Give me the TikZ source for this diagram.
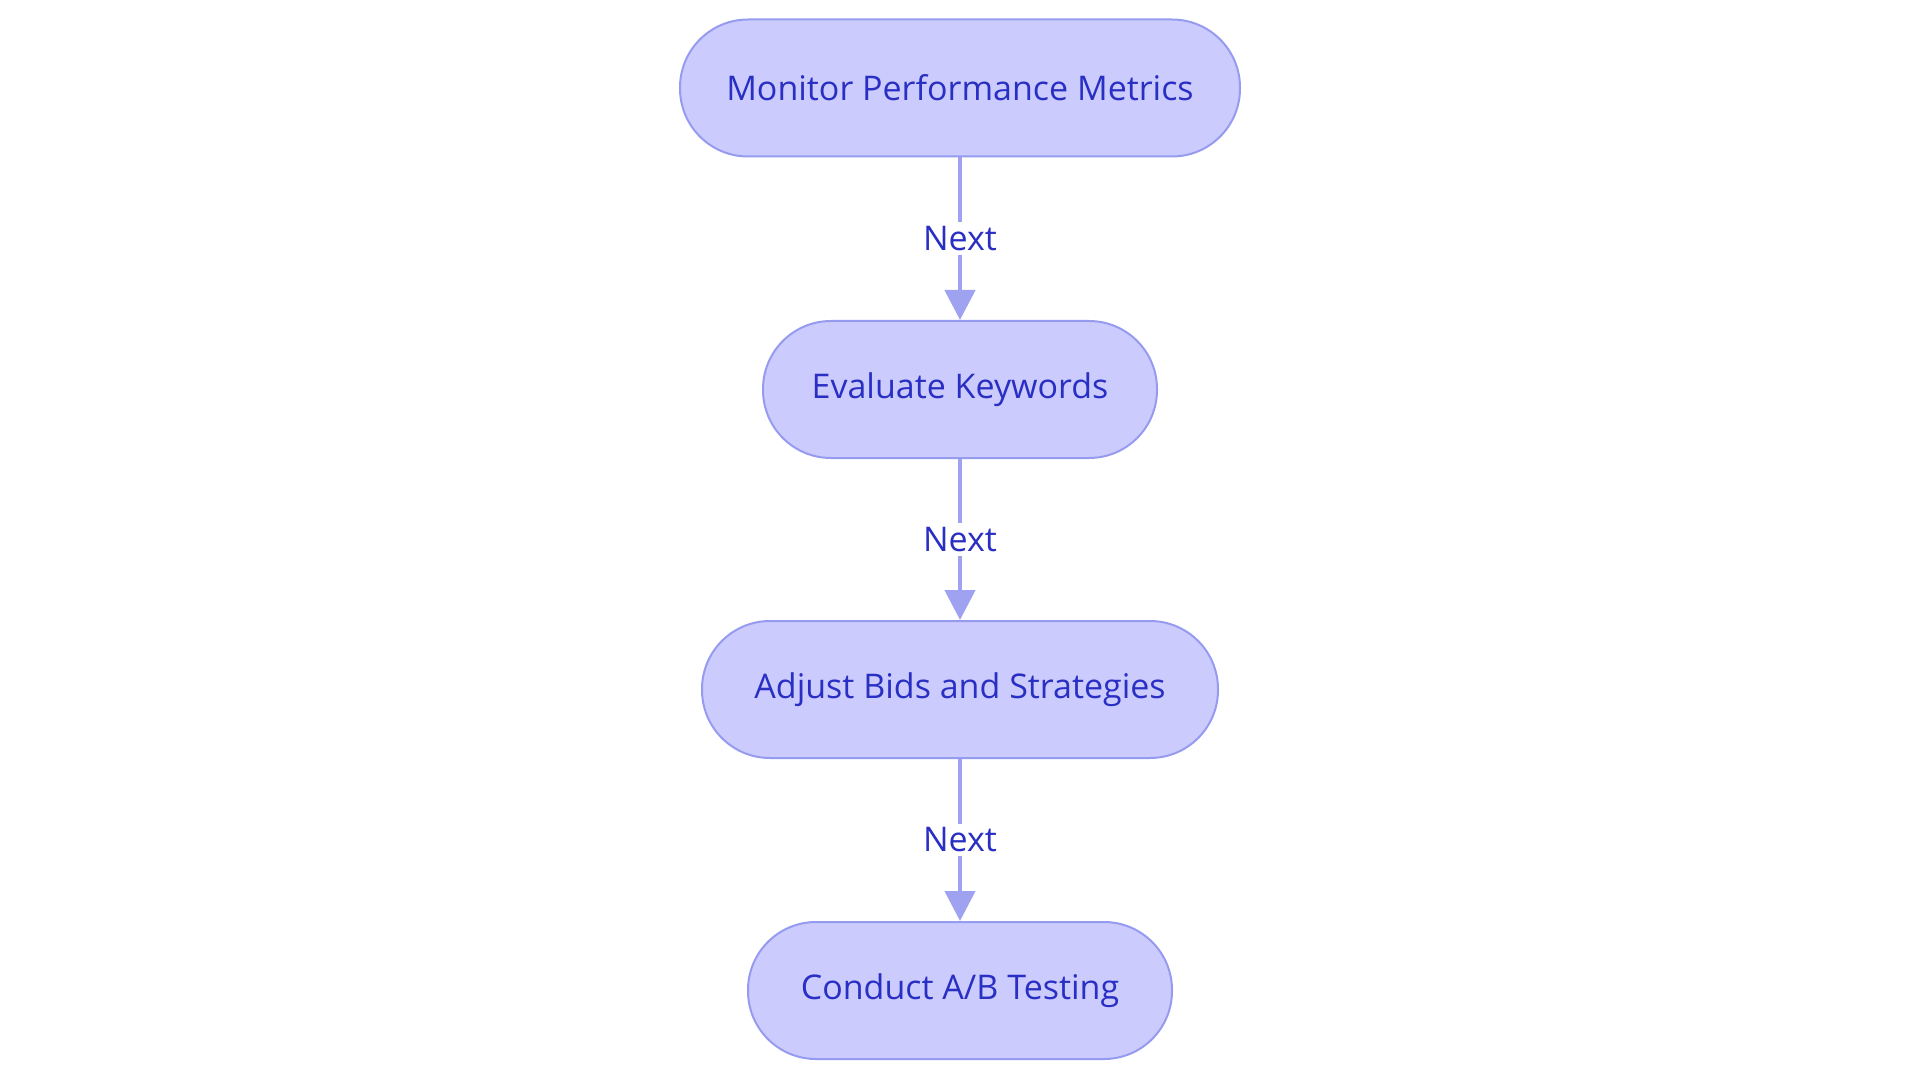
\documentclass[tikz,border=0pt]{standalone}
\usepackage{fontspec}
\setmainfont{Open Sans}
\usetikzlibrary{arrows.meta}
\definecolor{nodefill}{RGB}{203,204,253}
\definecolor{nodedraw}{RGB}{150,155,240}
\definecolor{nodetext}{RGB}{42,47,196}
\definecolor{edgecol}{RGB}{158,162,240}
\tikzset{
  stepbox/.style={draw=nodedraw, line width=2pt, fill=nodefill, text=nodetext,
    rounded corners=68pt, minimum height=137pt, inner sep=0pt,
    font=\fontsize{34pt}{39pt}\selectfont},
  flow/.style={draw=edgecol, line width=4.5pt, -{Triangle[length=30pt,width=30pt]}},
  lab/.style={fill=white, text=nodetext, inner sep=4pt, font=\fontsize{34pt}{39pt}\selectfont}
}
\begin{document}
\begin{tikzpicture}[x=1pt,y=1pt]
\useasboundingbox (0,0) rectangle (1920,-1083);
\node[stepbox, minimum width=560pt] (a) at (960,-88) {\raisebox{1.5pt}{Monitor Performance Metrics}};
\node[stepbox, minimum width=394pt] (b) at (960,-389.5) {\raisebox{1.5pt}{Evaluate Keywords}};
\node[stepbox, minimum width=516pt] (c) at (960,-689.5) {\raisebox{1.5pt}{Adjust Bids and Strategies}};
\node[stepbox, minimum width=424pt] (d) at (960,-990.5) {\raisebox{1.5pt}{Conduct A/B Testing}};
\draw[flow] (a) -- node[lab] (l1) {Next} (b);
\draw[flow] (b) -- node[lab] (l2) {Next} (c);
\draw[flow] (c) -- node[lab] (l3) {Next} (d);
\end{tikzpicture}
\end{document}
